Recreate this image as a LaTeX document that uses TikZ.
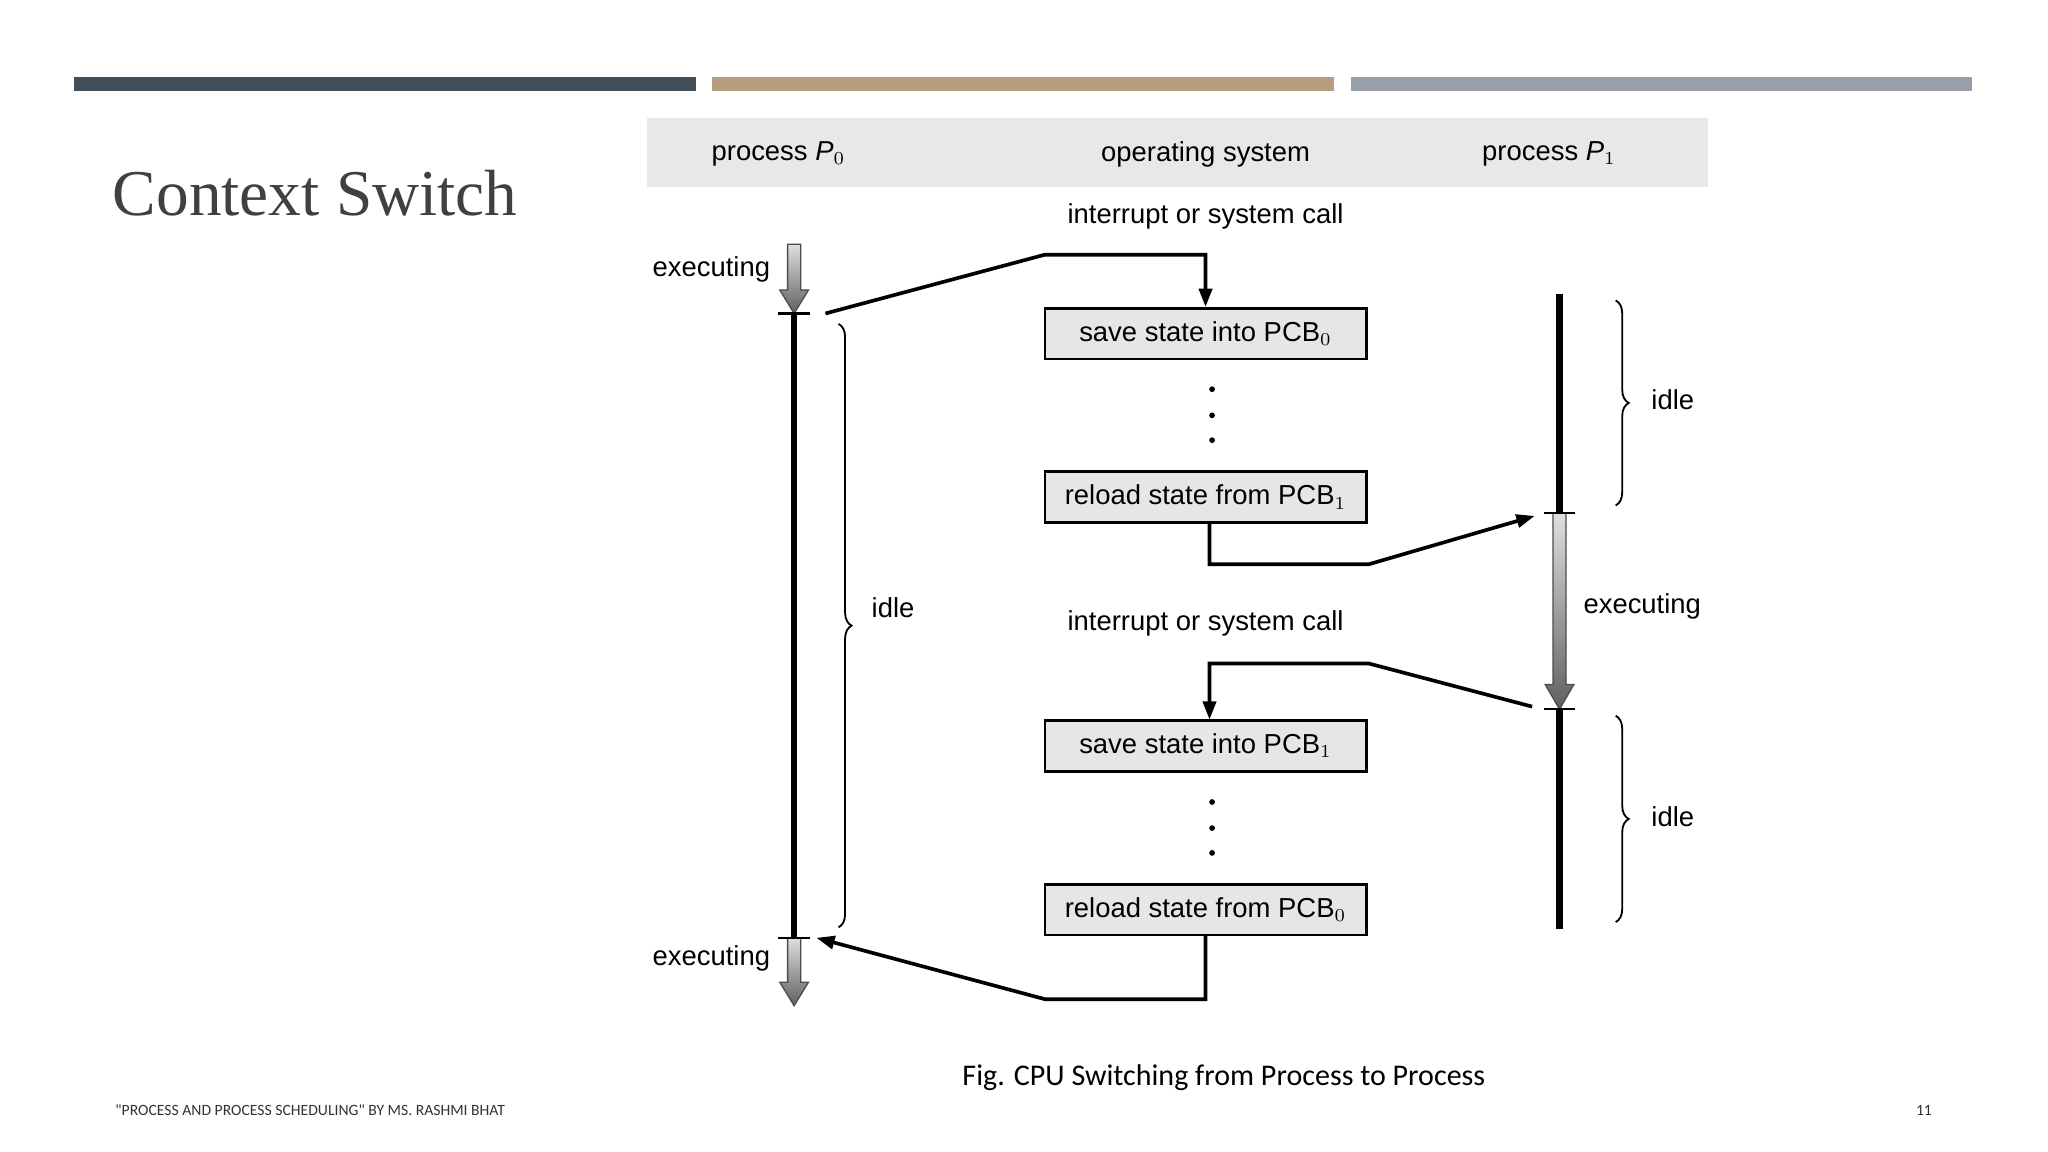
\documentclass[tikz,border=0pt]{standalone}
\usepackage{fontspec}
\setmainfont{Liberation Sans}
\newfontfamily\titlef{Liberation Serif}
\newfontfamily\capf{Carlito}
\usetikzlibrary{arrows.meta,decorations.pathreplacing}
\definecolor{barA}{HTML}{41505A}
\definecolor{barB}{HTML}{B59E7D}
\definecolor{barC}{HTML}{97A0A8}
\definecolor{hdr}{HTML}{E8E8EA}
\definecolor{boxf}{HTML}{E6E6E6}
\begin{document}
\begin{tikzpicture}[x=0.5pt,y=-0.5pt,
  box/.style={draw,line width=1pt,fill=boxf,minimum width=123pt,minimum height=19.5pt,font=\fontsize{10.5}{12}\selectfont,inner sep=0pt},
  lbl/.style={font=\fontsize{10.5}{12}\selectfont,inner sep=1pt},
  conn/.style={line width=1.4pt,-{Triangle[length=7pt,width=5pt]}},
  brc/.style={decorate,decoration={brace,amplitude=5pt},line width=0.7pt},
  tl/.style={line width=2.5pt},
  tick/.style={line width=0.8pt}]
\useasboundingbox (0,0) rectangle (1568,882);
\fill[white] (0,0) rectangle (1568,882);
% top bars
\fill[barA] (57,59) rectangle (533,70);
\fill[barB] (545,59) rectangle (1021,70);
\fill[barC] (1034,59) rectangle (1510,70);
\node[anchor=west,font=\titlef\fontsize{25}{28}\selectfont,text=black!75,inner sep=0pt] (title) at (86,148) {Context Switch};
% header
\fill[hdr] (495,90) rectangle (1308,143);
\node[lbl] (hp0) at (596,118) {process \textit{P}$_0$};
\node[lbl] (hos) at (923,118) {operating system};
\node[lbl] (hp1) at (1186,118) {process \textit{P}$_1$};
% P0 timeline
\coordinate (p0a) at (608,240);
\coordinate (p0b) at (608,718);
\shade[top color=gray!25,bottom color=gray!75!black,draw=gray!60!black,line width=0.5pt]
  (603,187) -- (613,187) -- (613,222) -- (619,222) -- (608,240) -- (597,222) -- (603,222) -- cycle;
\shade[top color=gray!25,bottom color=gray!75!black,draw=gray!60!black,line width=0.5pt]
  (603,718) -- (613,718) -- (613,752) -- (619,752) -- (608,770) -- (597,752) -- (603,752) -- cycle;
\draw[tl] (p0a) -- (p0b);
\draw[tick] (596,240) -- (620,240);
\draw[tick] (596,718) -- (620,718);
\node[lbl,anchor=east] (ex1) at (592,206) {executing};
\node[lbl,anchor=east] (ex2) at (592,734) {executing};
\draw[brc] (642,248) -- (642,710);
\node[lbl,anchor=west] (idle0) at (665,465) {idle};
% P1 timeline
\shade[top color=gray!25,bottom color=gray!75!black,draw=gray!60!black,line width=0.5pt]
  (1189,393) -- (1199,393) -- (1199,524) -- (1205,524) -- (1194,543) -- (1183,524) -- (1189,524) -- cycle;
\draw[tl] (1194,225) -- (1194,393);
\draw[tl] (1194,543) -- (1194,711);
\draw[tick] (1182,393) -- (1206,393);
\draw[tick] (1182,543) -- (1206,543);
\coordinate (p1a) at (1175,395);
\coordinate (p1b) at (1173,541);
\node[lbl,anchor=west] (ex3) at (1210,464) {executing};
\draw[brc] (1237,230) -- (1237,387);
\draw[brc] (1237,548) -- (1237,706);
\node[lbl,anchor=west] (idle1) at (1262,306) {idle};
\node[lbl,anchor=west] (idle2) at (1262,625) {idle};
% OS boxes
\node[box] (s0) at (923,255.5) {save state into PCB$_0$};
\node[box] (r1) at (923,380.5) {reload state from PCB$_1$};
\node[box] (s1) at (923,571) {save state into PCB$_1$};
\node[box] (r0) at (923,696.5) {reload state from PCB$_0$};
\foreach \y in {298,318,337,614,634,653} \fill (928,\y) circle (2.2);
\node[lbl] (int1) at (923,166) {interrupt or system call};
\node[lbl] (int2) at (923,477) {interrupt or system call};
% connectors
\draw[conn] (632,240) -- (800,195) -- (923,195) -- (s0.north);
\draw[conn] (926,400) -- (926,432) -- (1048,432) -- (p1a);
\draw[conn] (p1b) -- (1048,508) -- (926,508) -- (926,551);
\draw[conn] (923,716) -- (923,765) -- (800,765) -- (625,718);
% caption & footer
\node[font=\capf\fontsize{11.5}{13}\selectfont,inner sep=0pt] (cap) at (937,825) {Fig. CPU Switching from Process to Process};
\node[anchor=west,font=\capf\fontsize{6}{7}\selectfont,inner sep=0pt,text=black!80] (foot) at (88,850) {"PROCESS AND PROCESS SCHEDULING" BY MS. RASHMI BHAT};
\node[font=\capf\fontsize{6}{7}\selectfont,inner sep=0pt,text=black!80] (pg) at (1473,850) {11};
\end{tikzpicture}
\end{document}
